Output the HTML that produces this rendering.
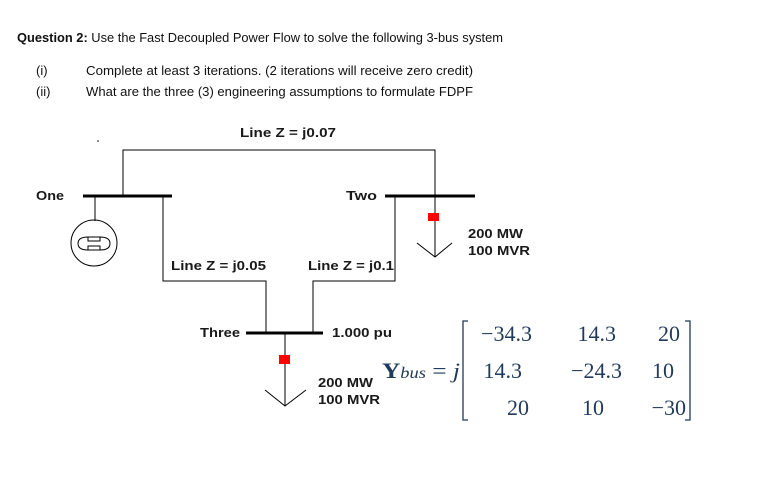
<!DOCTYPE html>
<html><head><meta charset="utf-8"><style>
html,body{margin:0;padding:0;background:#fff;}
svg{display:block;}
.t{font-family:"Liberation Sans",sans-serif;font-size:13px;fill:#111;}
.b{font-family:"Liberation Sans",sans-serif;font-size:12.5px;font-weight:bold;fill:#1a1a1a;}
.m{font-family:"Liberation Serif",serif;font-size:22px;fill:#1f3a5a;}
</style></head><body>
<svg width="778" height="482" viewBox="0 0 778 482" xmlns="http://www.w3.org/2000/svg">
<text class="t" x="17" y="42" textLength="486" lengthAdjust="spacingAndGlyphs"><tspan font-weight="bold">Question 2:</tspan> Use the Fast Decoupled Power Flow to solve the following 3-bus system</text>
<text class="t" x="36" y="75">(i)</text>
<text class="t" x="86" y="75" textLength="387" lengthAdjust="spacingAndGlyphs">Complete at least 3 iterations. (2 iterations will receive zero credit)</text>
<text class="t" x="36" y="96">(ii)</text>
<text class="t" x="86" y="96" textLength="387" lengthAdjust="spacingAndGlyphs">What are the three (3) engineering assumptions to formulate FDPF</text>

<text class="b" x="240" y="137" textLength="96" lengthAdjust="spacingAndGlyphs">Line Z = j0.07</text>
<circle cx="98" cy="141" r="0.8" fill="#000"/>
<g stroke="#000" stroke-width="1" fill="none">
<polyline points="123,196 123,150 435,150 435,257"/>
<polyline points="163,196 163,281 266,281 266,333"/>
<polyline points="395,196 395,281 313,281 313,333"/>
<line x1="95" y1="196" x2="95" y2="221"/>
<circle cx="94" cy="243" r="23"/>
<path d="M88,237 h12 M88,250 h12 M88,237 q-10,0 -10,6.5 q0,6.5 10,6.5 M100,237 q10,0 10,6.5 q0,6.5 -10,6.5 M88,237 v4 h12 v-4 M88,250 v-4 h12 v4"/>
<polyline points="417,243 435,257 452,243"/>
<line x1="285" y1="333" x2="285" y2="406"/>
<polyline points="265,390 285,406 306,390"/>
</g>
<g stroke="#000" stroke-width="3">
<line x1="83" y1="196" x2="172" y2="196"/>
<line x1="385" y1="196" x2="475" y2="196"/>
<line x1="246" y1="333" x2="323" y2="333"/>
</g>
<rect x="428" y="213" width="11" height="8" fill="#f00"/>
<rect x="279" y="355" width="11" height="9" fill="#f00"/>
<text class="b" x="36" y="200" textLength="28" lengthAdjust="spacingAndGlyphs">One</text>
<text class="b" x="346" y="200" textLength="31" lengthAdjust="spacingAndGlyphs">Two</text>
<text class="b" x="468" y="238" textLength="55" lengthAdjust="spacingAndGlyphs">200 MW</text>
<text class="b" x="468" y="255" textLength="62" lengthAdjust="spacingAndGlyphs">100 MVR</text>
<text class="b" x="171" y="270" textLength="95" lengthAdjust="spacingAndGlyphs">Line Z = j0.05</text>
<text class="b" x="308" y="270" textLength="86" lengthAdjust="spacingAndGlyphs">Line Z = j0.1</text>
<text class="b" x="200" y="337" textLength="40" lengthAdjust="spacingAndGlyphs">Three</text>
<text class="b" x="332" y="337" textLength="60" lengthAdjust="spacingAndGlyphs">1.000 pu</text>
<text class="b" x="318" y="387" textLength="55" lengthAdjust="spacingAndGlyphs">200 MW</text>
<text class="b" x="318" y="404" textLength="62" lengthAdjust="spacingAndGlyphs">100 MVR</text>

<text class="m" x="382" y="378" textLength="78" lengthAdjust="spacingAndGlyphs"><tspan font-weight="bold">Y</tspan><tspan font-style="italic" font-size="16">bus</tspan> = <tspan font-style="italic">j</tspan></text>
<g stroke="#1f3a5a" stroke-width="1.3" fill="none">
<polyline points="468,321 463,321 463,420 468,420"/>
<polyline points="685,321 690,321 690,420 685,420"/>
</g>
<g class="m" text-anchor="end">
<text x="532" y="341">−34.3</text><text x="616" y="341">14.3</text><text x="680" y="341">20</text>
<text x="522" y="378">14.3</text><text x="622" y="378">−24.3</text><text x="674" y="378">10</text>
<text x="529" y="415">20</text><text x="604" y="415">10</text><text x="686" y="415">−30</text>
</g>
</svg>
</body></html>
